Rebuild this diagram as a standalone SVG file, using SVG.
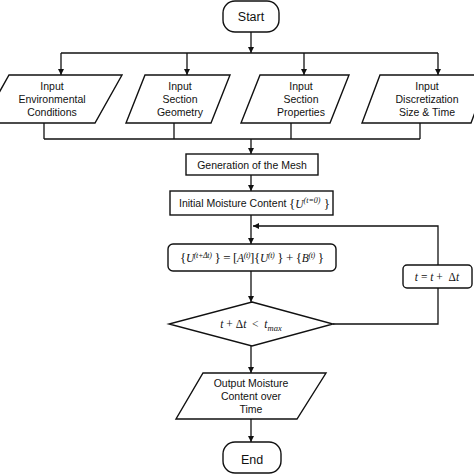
<svg xmlns="http://www.w3.org/2000/svg" width="474" height="474" viewBox="0 0 474 474">
<defs>
<marker id="ah" viewBox="0 0 10 10" refX="10" refY="5" markerWidth="6" markerHeight="6" orient="auto" markerUnits="userSpaceOnUse">
<path d="M0,0 L10,5 L0,10 z" fill="#111"/>
</marker>
<style>
.s{fill:#fff;stroke:#111;stroke-width:1.4}
.c{fill:none;stroke:#111;stroke-width:1.3}
.a{fill:none;stroke:#111;stroke-width:1.3;marker-end:url(#ah)}
.t{font-family:"Liberation Sans",Arial,sans-serif;font-size:10.5px;fill:#111;text-anchor:middle}
.b{font-family:"Liberation Sans",Arial,sans-serif;font-size:12.5px;fill:#111;text-anchor:middle}
.m{font-family:"Liberation Serif","DejaVu Serif",serif;font-size:11.5px;fill:#111}
.i{font-style:italic}
.sup{font-size:8px}
</style>
</defs>
<rect width="474" height="474" fill="#fff"/>
<g id="connectors">
<path class="a" d="M251,32 V53"/>
<path class="c" d="M61,53 H438"/>
<path class="a" d="M61,53 V75"/>
<path class="a" d="M187,53 V75"/>
<path class="a" d="M304,53 V75"/>
<path class="a" d="M438,53 V75"/>
<path class="c" d="M44,123 V139 M174,123 V139 M291,123 V139 M420,123 V139 M44,139 H420"/>
<path class="a" d="M251,139 V154"/>
<path class="a" d="M251,175 V191"/>
<path class="a" d="M251,215 V244"/>
<path class="a" d="M438,266 V226 H253"/>
<path class="a" d="M251,271 V302"/>
<path class="c" d="M333,324 H438 V288"/>
<path class="a" d="M251,346 V373"/>
<path class="a" d="M251,419 V442"/>
</g>
<g id="start">
<rect class="s" x="223" y="1" width="56" height="31" rx="12"/>
<text class="b" x="251" y="21">Start</text>
</g>
<g id="input-env">
<polygon class="s" points="9,75 122,75 95,123 -18,123"/>
<text class="t" x="52" y="90">Input</text>
<text class="t" x="52" y="103">Environmental</text>
<text class="t" x="52" y="116">Conditions</text>
</g>
<g id="input-geom">
<polygon class="s" points="145,75 230,75 211,123 126,123"/>
<text class="t" x="180" y="90">Input</text>
<text class="t" x="180" y="103">Section</text>
<text class="t" x="180" y="116">Geometry</text>
</g>
<g id="input-prop">
<polygon class="s" points="260,75 349,75 330,123 241,123"/>
<text class="t" x="301" y="90">Input</text>
<text class="t" x="301" y="103">Section</text>
<text class="t" x="301" y="116">Properties</text>
</g>
<g id="input-disc">
<polygon class="s" points="380,75 489,75 471,123 362,123"/>
<text class="t" x="427" y="90">Input</text>
<text class="t" x="427" y="103">Discretization</text>
<text class="t" x="427" y="116">Size &amp; Time</text>
</g>
<g id="mesh">
<rect class="s" x="186" y="154" width="132" height="21"/>
<text class="t" x="252" y="168.5">Generation of the Mesh</text>
</g>
<g id="initial">
<rect class="s" x="170" y="191" width="163" height="24"/>
<text class="t" x="179" y="207" style="text-anchor:start">Initial Moisture Content</text>
<text class="m" x="289" y="207.5"><tspan font-size="13">{</tspan><tspan class="i">U</tspan><tspan class="sup i" dy="-4.5">(t=0)</tspan><tspan dy="4.5" font-size="13"> }</tspan></text>
</g>
<g id="update">
<rect class="s" x="168" y="244" width="168" height="27" rx="5"/>
<text class="m" x="180" y="262" textLength="144" lengthAdjust="spacing"><tspan font-size="13">{</tspan><tspan class="i">U</tspan><tspan class="sup i" dy="-4.5">(t+Δt)</tspan><tspan dy="4.5" font-size="13"> } = [</tspan><tspan class="i">A</tspan><tspan class="sup i" dy="-4.5">(t)</tspan><tspan dy="4.5" font-size="13">]{</tspan><tspan class="i">U</tspan><tspan class="sup i" dy="-4.5">(t)</tspan><tspan dy="4.5" font-size="13"> } + {</tspan><tspan class="i">B</tspan><tspan class="sup i" dy="-4.5">(t)</tspan><tspan dy="4.5" font-size="13"> }</tspan></text>
</g>
<g id="increment">
<rect class="s" x="403" y="265" width="69" height="23" rx="4"/>
<text class="m" x="437" y="281" text-anchor="middle" xml:space="preserve"><tspan class="i">t</tspan> = <tspan class="i">t</tspan> +  Δ<tspan class="i">t</tspan></text>
</g>
<g id="decision">
<polygon class="s" points="252,302 333,324 252,346 169,324"/>
<text class="m" x="251" y="328" text-anchor="middle" xml:space="preserve"><tspan class="i">t</tspan> + Δ<tspan class="i">t</tspan>  &lt;  <tspan class="i">t</tspan><tspan class="i" font-size="8.5" dy="2.5">max</tspan></text>
</g>
<g id="output">
<polygon class="s" points="203,373 326,373 297,419 176,419"/>
<text class="t" x="251" y="387">Output Moisture</text>
<text class="t" x="251" y="400">Content over</text>
<text class="t" x="251" y="413">Time</text>
</g>
<g id="end">
<rect class="s" x="223" y="442" width="58" height="31" rx="12"/>
<text class="b" x="252" y="464">End</text>
</g>
</svg>
